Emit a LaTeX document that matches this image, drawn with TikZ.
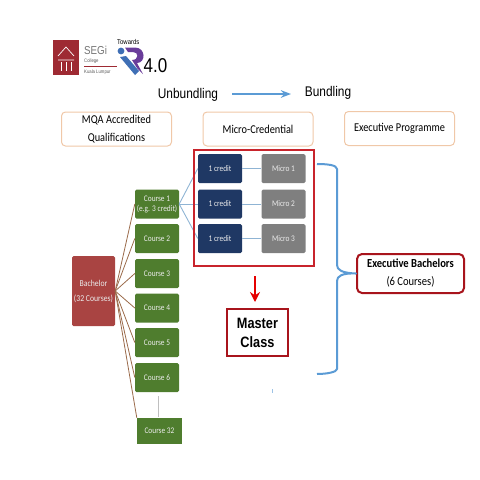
\documentclass[tikz,border=0pt]{standalone}
\usepackage{fontspec}
\setmainfont{Carlito}[FakeStretch=0.86]
\newfontfamily\arialfont{Liberation Sans}[FakeStretch=0.85]
\usetikzlibrary{arrows.meta,positioning}
\definecolor{boxorange}{HTML}{F0C8A8}
\definecolor{coursegreen}{HTML}{4F7D2E}
\definecolor{creditblue}{HTML}{1F3864}
\definecolor{microgray}{HTML}{7F7F7F}
\definecolor{bachred}{HTML}{A94442}
\definecolor{linkbrown}{HTML}{9A6A4A}
\definecolor{linkblue}{HTML}{8FB4D4}
\definecolor{bracketblue}{HTML}{5B9BD5}
\definecolor{framered}{HTML}{C8242C}
\definecolor{darkred}{HTML}{A8141C}
\definecolor{segired}{HTML}{9E2A33}
\definecolor{irblue}{HTML}{3F6FB5}
\definecolor{irpurple}{HTML}{6A3D9A}
\begin{document}
\begin{tikzpicture}[
  x=1pt,y=-1pt,
  >=Stealth,
  head/.style={draw=boxorange,fill=white,line width=1pt,rounded corners=4pt,
    minimum width=110pt,minimum height=34pt,align=center,font=\fontsize{12}{18}\selectfont,inner sep=0pt},
  block/.style={rounded corners=1.5pt,minimum width=44pt,minimum height=29pt,inner sep=0pt,
    align=center,text=white!92!black,font=\fontsize{8.6}{10}\selectfont},
  course/.style={block,fill=coursegreen},
  credit/.style={block,fill=creditblue},
  micro/.style={block,fill=microgray},
  link/.style={linkbrown,line width=0.8pt},
  sublink/.style={linkblue,line width=0.9pt},
  toptext/.style={font=\arialfont\fontsize{14}{16}\selectfont,inner sep=0pt},
  logotext/.style={inner sep=0pt,text=black!65,anchor=west,font=\arialfont\fontsize{5}{5}\selectfont}
]
  \useasboundingbox (0,0) rectangle (480,480);
  % logo
  \fill[segired] (53,40) rectangle (79,75);
  \draw[white,line width=0.7pt] (58,56) -- (66,47) -- (74,56) (58,60) -- (74,60);
  \foreach \xa in {61,66,71}
    \draw[white,line width=0.8pt] (\xa,62) -- (\xa,71);
  \node[logotext,text=black!55,font=\arialfont\fontsize{11.5}{11}\selectfont] (segi) at (84,50) {SEGi};
  \node[logotext] (college) at (84,61) {College};
  \draw[segired,line width=0.8pt] (84,66) -- (117,66);
  \node[logotext] (kuala) at (84,72.5) {Kuala Lumpur};
  \node[logotext,text=black,font=\arialfont\fontsize{7}{7}\selectfont] (towards) at (117,42) {Towards};
  \fill[irblue] (121,51) circle (3.4pt);
  \fill[irblue] (120,57) -- (126,56) -- (139,71) -- (135,75) -- cycle;
  \fill[irpurple] (125,47.5) -- (135,47.5) .. controls (146,47.5) and (146,63) .. (137,63)
    -- (143,74) -- (137,68) -- (132,60) .. controls (139,60) and (139,52) .. (133,52) -- (128,52) -- cycle;
  \node[inner sep=0pt,font=\arialfont\fontsize{20}{20}\selectfont] (ifour) at (155.5,66) {4.0};
  % titles
  \node[toptext] (unbundling) at (188,95) {Unbundling};
  \node[toptext] (bundling) at (328,93) {Bundling};
  \coordinate (arrowstart) at (232,94);
  \coordinate (arrowstop) at (291,94);
  \draw[->,bracketblue,line width=1.6pt] (arrowstart) -- (arrowstop);
  \node[head] (mqa) at (116.5,129) {MQA Accredited\\Qualifications};
  \node[head] (microcred) at (258,129) {Micro-Credential};
  \node[head] (execprog) at (399.5,128.5) {Executive Programme};
  % courses
  \node[block,fill=bachred,minimum width=43pt,minimum height=70pt,
    font=\fontsize{9}{15}\selectfont] (bachelor) at (93.5,291) {Bachelor\\(32 Courses)};
  \node[course] (course1) at (157,204) {Course 1\\(e.g. 3 credit)};
  \foreach \name/\txt/\ypos in {course2/Course 2/238.5,course3/Course 3/273.5,course4/Course 4/308,
    course5/Course 5/342.5,course6/Course 6/377.5}
    \node[course] (\name) at (157,\ypos) {\txt};
  \node[course,rounded corners=0pt,minimum width=45pt,minimum height=26pt] (course32) at (159.5,431) {Course 32};
  \foreach \name in {course1,course2,course3,course4,course5,course6}
    \draw[link] (bachelor.east) -- (\name.west);
  \draw[link] (bachelor.east) -- (course32.north west);
  \draw[gray!50,line width=0.8pt] (158,417) -- (158,396);
  % credits
  \foreach \i/\ypos in {1/168.5,2/204,3/238.5}{
    \node[credit] (credit\i) at (220,\ypos) {1 credit};
    \node[micro] (micro\i) at (283.5,\ypos) {Micro \i};
    \draw[sublink] (course1.east) -- (credit\i.west);
    \draw[sublink] (credit\i) -- (micro\i);
  }
  \node[draw=framered,line width=2.2pt,minimum width=120pt,minimum height=116pt,inner sep=0pt] (frame) at (254,208) {};
  % master class
  \node[draw=darkred,line width=2.2pt,minimum width=61pt,minimum height=47pt,inner sep=0pt,align=center,
    font=\arialfont\bfseries\fontsize{15}{19}\selectfont] (master) at (257.5,332.5) {Master\\Class};
  \coordinate (arrowtop) at (255,276);
  \coordinate (arrowend) at (255,302);
  \draw[-{Stealth[length=10pt,width=10pt]},red!90!black,line width=2.4pt] (arrowtop) -- (arrowend);
  \draw[bracketblue!60,line width=0.6pt] (272,389) -- (272,393);
  % executive
  \node[draw=darkred,line width=2pt,rounded corners=5pt,fill=white,minimum width=107pt,minimum height=39pt,
    inner sep=0pt,align=center,font=\fontsize{12.3}{18}\selectfont] (execbach) at (410.5,273.5) {\textbf{Executive Bachelors}\\(6 Courses)};
  \coordinate (bracetop) at (317,164);
  \coordinate (bracebot) at (317,374);
  \draw[bracketblue,line width=2pt,line join=round] (bracetop) .. controls (327,164) and (337,165) .. (337,169)
    -- (337,265) .. controls (337,270) and (342,273) .. (execbach.west)
    .. controls (342,273) and (337,276) .. (337,281) -- (337,369) .. controls (337,372) and (327,374) .. (bracebot);
\end{tikzpicture}
\end{document}
